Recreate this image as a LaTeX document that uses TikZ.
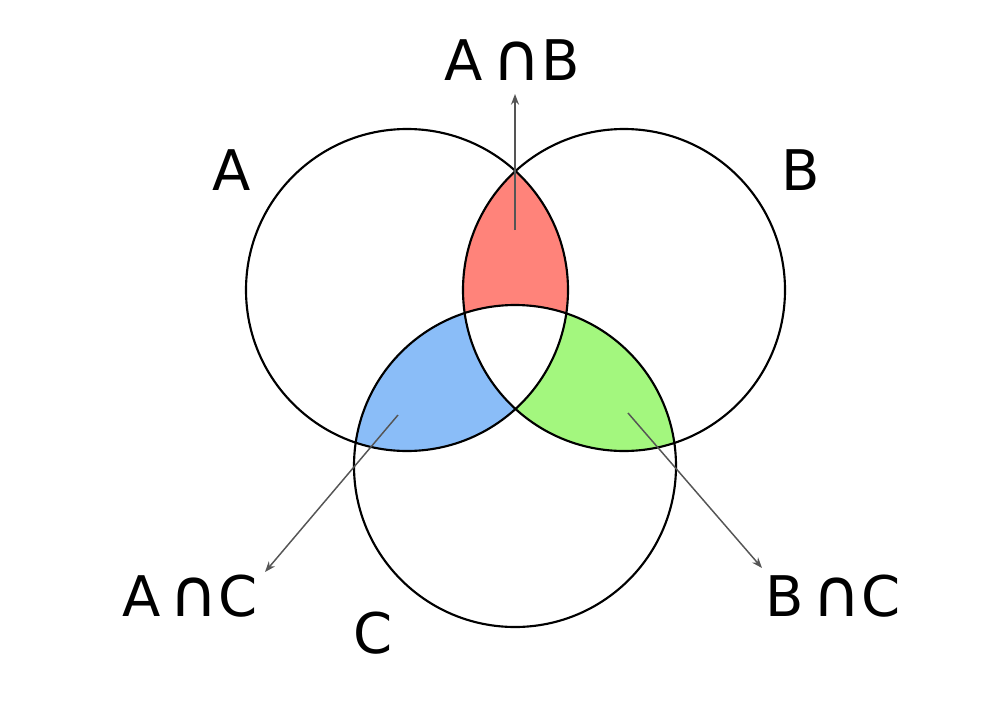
\documentclass[tikz,border=0pt]{standalone}
\usepackage{fontspec}
\setmainfont{DejaVu Sans}
\usetikzlibrary{arrows.meta}
\newcommand{\capsym}{\,{\fontsize{50}{50}\selectfont ∩}}
\tikzset{
  setlabel/.style={font=\fontsize{42}{46}\selectfont, inner sep=0.75pt},
  pointer/.style={draw={rgb,255:red,85;green,85;blue,85}, line width=1.1pt, -{Stealth[length=8pt,width=6pt]}},
}
\begin{document}
\begin{tikzpicture}[x=0.75pt,y=0.75pt,yscale=-1,xscale=1]
\useasboundingbox[fill=white] (0,0) rectangle (1000,707);
\def\circA{(407,290) circle (161)}
\def\circB{(624,290) circle (161)}
\def\circC{(515,466) circle (161)}

%Shaded lenses
\begin{scope}\clip \circA; \fill[fill={rgb,255:red,255;green,131;blue,122}] \circB; \end{scope}
\begin{scope}\clip \circA; \fill[fill={rgb,255:red,138;green,189;blue,248}] \circC; \end{scope}
\begin{scope}\clip \circB; \fill[fill={rgb,255:red,163;green,247;blue,126}] \circC; \end{scope}
\begin{scope}\clip \circA; \clip \circB; \fill[white] \circC; \end{scope}

%Circles
\draw[line width=1.6pt] \circA;
\draw[line width=1.6pt] \circB;
\draw[line width=1.6pt] \circC;

% Text Node
\node[setlabel] (labA) at (232,170) {A};
\node[setlabel] (labB) at (801,170) {B};
\node[setlabel] (labC) at (373,633) {C};
\node[setlabel] (labAB) at (512,60) {A\capsym B};
\node[setlabel] (labAC) at (190,596) {A\capsym C};
\node[setlabel] (labBC) at (833,596) {B\capsym C};

%Pointers
\coordinate (inAB) at (515,230);
\coordinate (inAC) at (398,415);
\coordinate (inBC) at (628,413);
\coordinate (tipAB) at (515,94);
\coordinate (tipAC) at (265,572);
\coordinate (tipBC) at (762,568);
\draw[pointer] (inAB) -- (tipAB);
\draw[pointer] (inAC) -- (tipAC);
\draw[pointer] (inBC) -- (tipBC);
\end{tikzpicture}
\end{document}
